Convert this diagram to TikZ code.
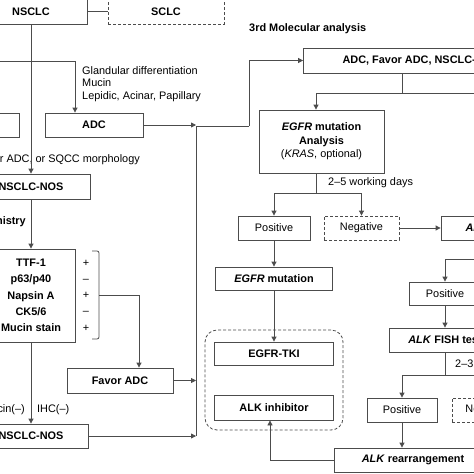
\documentclass[tikz,border=0pt]{standalone}
\usepackage{fontspec}
\setmainfont{Liberation Sans}
\usetikzlibrary{arrows.meta}

\begin{document}
\begin{tikzpicture}[x=1pt,y=-1pt,
  line/.style={draw=black!70,line width=0.8pt},
  arr/.style={line,-{Triangle[length=5pt,width=5pt]}},
  box/.style={line,minimum width=#1,minimum height=24pt,inner sep=0pt,
    font=\fontsize{10.9}{12.5}\selectfont\bfseries},
  pbox/.style={box=#1,font=\fontsize{10.9}{12.5}\selectfont},
  lbl/.style={inner sep=0pt,font=\fontsize{10.9}{12.5}\selectfont},
  dashed/.style={dash pattern=on 3pt off 2pt}]
\useasboundingbox (0,0) rectangle (474,474);
\clip (0,0) rectangle (474,474);

% 1st: morphology
\node[box=112pt,minimum height=25pt] (nsclc) at (31,11.5) {NSCLC};
\node[box=116pt,minimum height=25pt,dashed] (sclc) at (166,11.5) {SCLC};
\node[box=79pt] (sqcc) at (-20.5,125) {};
\node[box=98pt] (adc) at (94,125) {ADC};
\node[box=118pt,minimum height=25pt] (nos1) at (31,186.5) {NSCLC-NOS};
\node[lbl,anchor=north west,align=left] (gland) at (82,66) {Glandular differentiation\\Mucin\\Lepidic, Acinar, Papillary};
\node[lbl,anchor=east] (morph) at (140,160) {No clear ADC, or SQCC morphology};

% 2nd: IHC
\node[lbl,anchor=east,font=\fontsize{10.9}{12.5}\selectfont\bfseries] (ihchead) at (26,222) {2nd Immunohistochemistry};
\node[box=88pt,minimum height=93pt,align=center,font=\fontsize{10.9}{16.3}\selectfont\bfseries] (ihc) at (31,295.5) {TTF-1\\p63/p40\\Napsin A\\CK5/6\\Mucin stain};
\node[lbl,align=center,font=\fontsize{10.9}{16.3}\selectfont] (signs) at (86,295.5) {+\\–\\+\\–\\+};
\node[box=106pt,minimum height=25pt] (favor) at (120,380.5) {Favor ADC};
\node[box=114pt] (nos2) at (31,436) {NSCLC-NOS};
\node[lbl,anchor=east] (mucneg) at (25,410) {Mucin(–)};
\node[lbl,anchor=west] (ihcneg) at (37,410) {IHC(–)};

% 3rd: molecular
\node[lbl,anchor=west,font=\fontsize{10.9}{12.5}\selectfont\bfseries] (molhead) at (249,29) {3rd Molecular analysis};
\node[box=235pt,minimum height=25pt] (mol) at (421,60.5) {ADC, Favor ADC, NSCLC-NOS};
\node[box=125pt,minimum height=63pt,align=center,font=\fontsize{10.9}{13.5}\selectfont\bfseries] (egfr) at (321.5,141.5) {\textit{EGFR} mutation\\Analysis\\{\mdseries(\textit{KRAS}, optional)}};
\node[lbl,anchor=west] (days1) at (328,183) {2–5 working days};
\node[pbox=72pt] (pos1) at (274,228) {Positive};
\node[pbox=75pt,dashed] (neg1) at (361.5,228) {Negative};
\node[box=94pt] (alkihc) at (488,228) {\textit{ALK} IHC};
\node[pbox=72pt,minimum height=23pt] (pos2) at (445,293.5) {Positive};
\node[box=112pt] (fish) at (445,340) {\textit{ALK} FISH test};
\node[lbl,anchor=west] (days2) at (455,365) {2–3 working days};
\node[pbox=70pt] (pos3) at (402,410) {Positive};
\node[pbox=70pt,dashed] (neg2) at (487,410) {Negative};
\node[box=158pt] (alkre) at (413,460) {\textit{ALK} rearrangement};
\node[box=117pt,minimum height=23pt] (egfrmut) at (274,278.5) {\textit{EGFR} mutation};
\node[box=119pt,minimum height=23pt] (tki) at (274,353.5) {EGFR-TKI};
\node[box=119pt,minimum height=25pt] (alkinh) at (274,407.5) {ALK inhibitor};
\node[line,dashed,rounded corners=12pt,minimum width=138pt,minimum height=100pt] (treat) at (274,380) {};

% branch points
\coordinate (gl) at (-10,61);
\coordinate (jt) at (196,126);
\coordinate (jb) at (196,436);
\coordinate (br) at (99,295);
\coordinate (j1) at (402,93);
\coordinate (j1r) at (490,93);
\coordinate (j2) at (316,193);
\coordinate (j3) at (445,375);

\draw[line] (nsclc) -- (sclc);
\draw[arr] (nsclc) -- (nos1);
\draw[arr] (gl) -| ([xshift=-19pt]adc.north);
\draw[arr] (adc) -- (adc -| jt);
\draw[line] (jb) -- (jt) -- ++(53,0) coordinate (jm);
\draw[arr] (jm) |- (mol);
\draw[arr] (nos1) -- (ihc);
\draw[arr] (ihc) -- (nos2);
\draw[line,rounded corners=2pt] (92,251) -- (99,251) -- (99,339) -- (92,339);
\draw[arr] (br) -| ([xshift=19pt]favor.north);
\draw[arr] (favor) -- (favor -| jt);
\draw[arr] (nos2) -- (nos2 -| jb);
\draw[line] (mol.south -| j1) -- (j1);
\draw[arr] (j1r) -| ([xshift=-5.5pt]egfr.north);
\draw[line] (egfr.south -| j2) -- (j2);
\draw[arr] (j2) -| (pos1);
\draw[arr] (j2) -| (neg1);
\draw[arr] (pos1) -- (egfrmut);
\draw[arr] (egfrmut) -- (tki);
\draw[arr] (neg1) -- (alkihc);
\draw[arr] (alkihc.south) -- ++(0,19) -| (pos2);
\draw[arr] (pos2) -- (fish);
\draw[line] (fish) -- (j3);
\draw[arr] (j3) -| (pos3);
\draw[arr] (j3) -| (neg2);
\draw[arr] (pos3) -- (pos3 |- alkre.north);
\draw[arr] (alkre) -| ([xshift=-4pt]alkinh.south);
\end{tikzpicture}
\end{document}
